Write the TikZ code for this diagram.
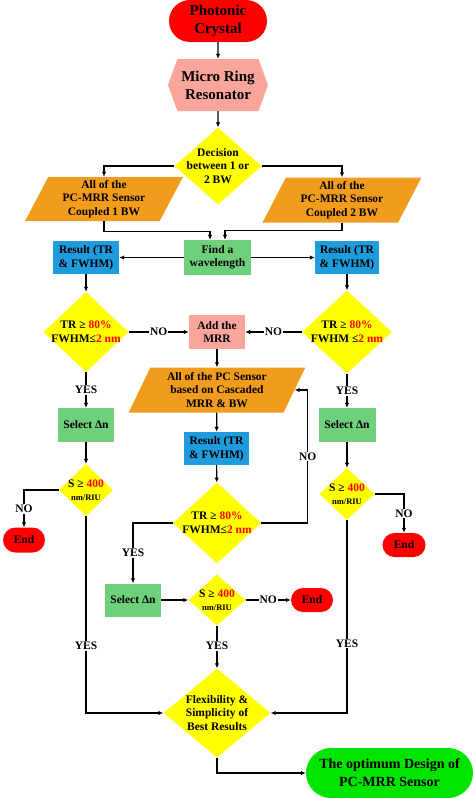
\documentclass[tikz,border=0pt]{standalone}
\usepackage{fontspec}
\setmainfont{Liberation Serif}
\usetikzlibrary{arrows.meta}
\usetikzlibrary{shapes.geometric}
\usetikzlibrary{shapes.misc}
\usetikzlibrary{shapes.symbols}

\definecolor{pcred}{RGB}{255,0,0}
\definecolor{salmon}{RGB}{248,166,156}
\definecolor{orng}{RGB}{242,156,30}
\definecolor{skyblue}{RGB}{30,156,222}
\definecolor{leaf}{RGB}{110,208,122}
\definecolor{yel}{RGB}{255,255,0}
\definecolor{lime}{RGB}{0,228,0}

\newcommand{\fbig}{\fontsize{15pt}{18pt}\selectfont\bfseries}
\newcommand{\fopt}{\fontsize{14pt}{18pt}\selectfont\bfseries}
\newcommand{\fmid}{\fontsize{11.5pt}{13.5pt}\selectfont\bfseries}
\newcommand{\ftiny}{\fontsize{8.5pt}{10pt}\selectfont\bfseries}
\newcommand{\hl}[1]{\textcolor{red}{#1}}

\tikzset{
  arr/.style={-{Latex[length=5pt,width=4.5pt]}, line width=1.2pt},
  term/.style={rounded rectangle, fill=pcred, align=center, inner sep=1pt, font=\fmid},
  procbox/.style={rectangle, align=center, inner sep=1pt, font=\fmid},
  hexa/.style={signal, signal to=west and east, signal pointer angle=140, fill=salmon, align=center, inner sep=1pt, font=\fbig},
  io/.style={trapezium, trapezium left angle=66, trapezium right angle=114, trapezium stretches=true, fill=orng, align=center, inner sep=1pt, font=\fmid},
  dec/.style={diamond, fill=yel, inner sep=0pt},
  dectxt/.style={align=center, inner sep=0pt, font=\fmid},
  lbl/.style={fill=white, inner sep=1pt, font=\fmid}
}

\begin{document}
\begin{tikzpicture}[x=1pt, y=-1pt]
  \useasboundingbox (0,0) rectangle (474,798);

  % top of the chart
  \node[term, font=\fbig, minimum width=100pt, minimum height=42pt] (pc) at (218,21) {Photonic\\Crystal};
  \node[hexa, minimum width=100pt, minimum height=52pt] (mrr) at (218,85) {Micro Ring\\Resonator};
  \node[dec, minimum width=87pt, minimum height=77pt] (bw) at (218,166) {};
  \node[dectxt] at (bw) {Decision\\between 1 or\\2 BW};
  \node[io, minimum width=158pt, minimum height=44pt] (cpl1) at (104,199) {All of the\\PC-MRR Sensor\\Coupled 1 BW};
  \node[io, minimum width=159pt, minimum height=45pt] (cpl2) at (342,200) {All of the\\PC-MRR Sensor\\Coupled 2 BW};
  \node[procbox, fill=leaf, minimum width=67pt, minimum height=35pt] (find) at (217.5,257.5) {Find a\\wavelength};
  \node[procbox, fill=skyblue, minimum width=66pt, minimum height=33pt] (resL) at (86,257.5) {Result (TR\\\& FWHM)};
  \node[procbox, fill=skyblue, minimum width=64pt, minimum height=33pt] (resR) at (347,257.5) {Result (TR\\\& FWHM)};

  % first checks
  \node[dec, minimum width=85pt, minimum height=80pt] (trL) at (86,332) {};
  \node[dectxt] at (trL) {TR ≥ \hl{80\%}\\FWHM≤\hl{2 nm}};
  \node[dec, minimum width=90pt, minimum height=83pt] (trR) at (347,332) {};
  \node[dectxt] at (trR) {TR ≥ \hl{80\%}\\FWHM ≤\hl{2 nm}};
  \node[procbox, fill=salmon, minimum width=56pt, minimum height=34pt] (add) at (217,332) {Add the\\MRR};
  \node[io, minimum width=177pt, minimum height=45pt] (cas) at (217,390) {All of the PC Sensor\\based on Cascaded\\MRR \& BW};
  \node[procbox, fill=skyblue, minimum width=65pt, minimum height=33pt] (resM) at (216.5,448.5) {Result (TR\\\& FWHM)};
  \node[procbox, fill=leaf, minimum width=56pt, minimum height=34pt] (selL) at (86,425) {Select Δn};
  \node[procbox, fill=leaf, minimum width=57pt, minimum height=34pt] (selR) at (347,425) {Select Δn};

  % sensitivity checks
  \node[dec, minimum width=54pt, minimum height=52pt] (sL) at (86,490) {};
  \node[dectxt] at (sL) {S ≥ \hl{400}\\[-1pt]{\ftiny nm/RIU}};
  \node[dec, minimum width=55pt, minimum height=52pt] (sR) at (347,494) {};
  \node[dectxt] at (sR) {S ≥ \hl{400}\\[-1pt]{\ftiny nm/RIU}};
  \node[term, minimum width=44pt, minimum height=25pt] (endL) at (24,540) {End};
  \node[term, minimum width=45pt, minimum height=24pt] (endR) at (404,545) {End};
  \node[dec, minimum width=88pt, minimum height=81pt] (trM) at (217,523) {};
  \node[dectxt] at (trM) {TR ≥ \hl{80\%}\\FWHM≤\hl{2 nm}};
  \node[procbox, fill=leaf, minimum width=56pt, minimum height=33pt] (selM) at (133,600) {Select Δn};
  \node[dec, minimum width=57pt, minimum height=51pt] (sM) at (217,600) {};
  \node[dectxt] at (sM) {S ≥ \hl{400}\\[-1pt]{\ftiny nm/RIU}};
  \node[term, minimum width=44pt, minimum height=24pt] (endM) at (312,600) {End};

  % end of the chart
  \node[dec, minimum width=107pt, minimum height=89pt] (flex) at (217,713) {};
  \node[dectxt] at (flex) {Flexibility \&\\Simplicity of\\Best Results};
  \node[term, fill=lime, font=\fopt, minimum width=169pt, minimum height=50pt] (opt) at (389.5,773) {The optimum Design of\\PC-MRR Sensor};

  % connectors
  \draw[arr] (pc) -- (mrr);
  \draw[arr] (mrr) -- (bw);
  \draw[arr] (bw.west) -| (cpl1.north);
  \draw[arr] (bw.east) -| (cpl2.north);
  \draw[arr] (cpl1.south) -- ++(0,10) -| ([xshift=-7.5pt]find.north);
  \draw[arr] (cpl2.south) -- ++(0,8) -| ([xshift=7.5pt]find.north);
  \draw[arr] (find) -- (resL);
  \draw[arr] (find) -- (resR);
  \draw[arr] (resL) -- (trL);
  \draw[arr] (resR) -- (trR);
  \draw[arr] (trL) -- node[lbl]{NO} (add);
  \draw[arr] (trR) -- node[lbl]{NO} (add);
  \draw[arr] (add) -- (cas);
  \draw[arr] (cas) -- (resM);
  \draw[arr] (resM) -- (trM);
  \draw[arr] (trL) -- node[lbl]{YES} (selL);
  \draw[arr] (trR) -- node[lbl]{YES} (selR);
  \draw[arr] (selL) -- (sL);
  \draw[arr] (selR) -- (sR);
  \draw[arr] (sL.west) -| node[lbl, pos=0.75]{NO} (endL.north);
  \draw[arr] (sR.east) -| node[lbl, pos=0.75]{NO} (endR.north);
  \draw[arr] (trM.east) -| node[lbl, pos=0.75]{NO} ([xshift=13pt]cas.east) -- (cas.east);
  \draw[arr] (trM.west) -| node[lbl, pos=0.75]{YES} (selM.north);
  \draw[arr] (selM) -- (sM);
  \draw[arr] (sM) -- node[lbl]{NO} (endM);
  \draw[arr] (sM) -- node[lbl, pos=0.47]{YES} (flex);
  \draw[arr] (sL.south) |- node[lbl, pos=0.33]{YES} (flex.west);
  \draw[arr] (sR.south) |- node[lbl, pos=0.32]{YES} (flex.east);
  \draw[arr] (flex.south) |- (opt.west);
\end{tikzpicture}
\end{document}
